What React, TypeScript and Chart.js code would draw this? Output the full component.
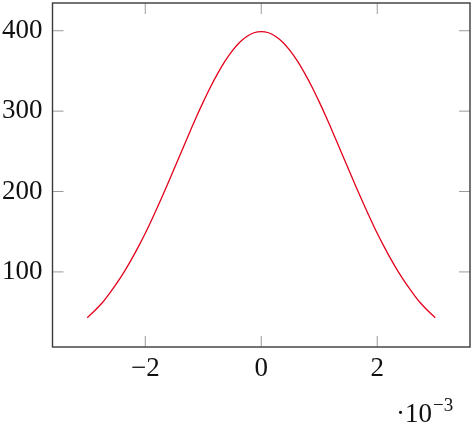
import React, { useEffect, useRef } from "react";
import { Chart, registerables } from "chart.js";

Chart.register(...registerables);

// x positions (actual values; axis shows them scaled by 10^-3)
const xValues = [
  -0.003, -0.002875, -0.00275, -0.002625, -0.0025, -0.002375, -0.00225, -0.002125,
  -0.002, -0.001875, -0.00175, -0.001625, -0.0015, -0.001375, -0.00125, -0.001125,
  -0.001, -0.000875, -0.00075, -0.000625, -0.0005, -0.000375, -0.00025, -0.000125,
  0,
  0.000125, 0.00025, 0.000375, 0.0005, 0.000625, 0.00075, 0.000875, 0.001,
  0.001125, 0.00125, 0.001375, 0.0015, 0.001625, 0.00175, 0.001875, 0.002,
  0.002125, 0.00225, 0.002375, 0.0025, 0.002625, 0.00275, 0.002875, 0.003,
];
const yValues = [
  43, 51.6, 61, 72.5, 85, 98.8, 114, 130.5,
  148, 167.1, 187, 207.6, 228.6, 249.9, 271, 291.7,
  311.5, 330.1, 347, 362.2, 375, 385.4, 392.9, 397.5,
  399,
  397.5, 392.9, 385.4, 375, 362.2, 347, 330.1, 311.5,
  291.7, 271, 249.9, 228.6, 207.6, 187, 167.1, 148,
  130.5, 114, 98.8, 85, 72.5, 61, 51.6, 43,
];
const xTicks = [-0.002, 0, 0.002];
const yTicks = [100, 200, 300, 400];
const xMin = -0.0036;
const xMax = 0.0036;
const yMin = 6.6;
const yMax = 434.5;
const scaleLabel = "·10";
const scaleExp = "−3";

const FONT = "'Liberation Serif', 'DejaVu Serif', serif";

const framePlugin = {
  id: "frameTicks",
  afterDatasetsDraw(chart: any) {
    const { ctx, chartArea, scales } = chart;
    const { left, right, top, bottom } = chartArea;
    const len = 11;
    ctx.save();
    ctx.strokeStyle = "#9a9a9a";
    ctx.lineWidth = 1;
    for (const t of xTicks) {
      const x = scales.x.getPixelForValue(t);
      ctx.beginPath();
      ctx.moveTo(x, bottom);
      ctx.lineTo(x, bottom - len);
      ctx.moveTo(x, top);
      ctx.lineTo(x, top + len);
      ctx.stroke();
    }
    for (const t of yTicks) {
      const y = scales.y.getPixelForValue(t);
      ctx.beginPath();
      ctx.moveTo(left, y);
      ctx.lineTo(left + len, y);
      ctx.moveTo(right, y);
      ctx.lineTo(right - len, y);
      ctx.stroke();
    }
    ctx.strokeStyle = "#3a3a3a";
    ctx.lineWidth = 1.4;
    ctx.strokeRect(left, top, right - left, bottom - top);
    // scale annotation
    ctx.fillStyle = "#111";
    ctx.textAlign = "left";
    ctx.textBaseline = "alphabetic";
    ctx.font = `27px ${FONT}`;
    const x0 = 396;
    ctx.fillText(scaleLabel, x0, 421.5);
    const w = ctx.measureText(scaleLabel).width;
    ctx.font = `19px ${FONT}`;
    ctx.fillText(scaleExp, x0 + w + 1, 411);
    ctx.restore();
  },
};

const zeroPad = (s: any) => {
  s.paddingTop = 0;
  s.paddingBottom = 0;
  s.paddingLeft = 0;
  s.paddingRight = 0;
};

export default function App() {
  const ref = useRef<HTMLCanvasElement>(null);
  useEffect(() => {
    if (!ref.current) return;
    const chart = new Chart(ref.current, {
      type: "scatter",
      data: {
        datasets: [
          {
            data: xValues.map((x, i) => ({ x, y: yValues[i] })),
            showLine: true,
            borderColor: "#e3001b",
            borderWidth: 1.3,
            pointRadius: 0,
            tension: 0.3,
          },
        ],
      },
      options: {
        animation: false,
        responsive: true,
        maintainAspectRatio: false,
        devicePixelRatio: 1,
        layout: { padding: { top: 3, right: 4, left: 0, bottom: 0 } },
        plugins: { legend: { display: false }, tooltip: { enabled: false } },
        scales: {
          x: {
            type: "linear",
            min: xMin,
            max: xMax,
            grid: { display: false, drawTicks: false },
            border: { display: false },
            afterBuildTicks: (s: any) => {
              s.ticks = xTicks.map((v) => ({ value: v }));
            },
            afterFit: (s: any) => {
              s.height = 78;
              zeroPad(s);
            },
            ticks: {
              padding: 6,
              color: "#111",
              font: { family: FONT, size: 27 },
              maxRotation: 0,
              callback: (v: any) => {
                const n = Math.round(Number(v) * 1000);
                return n < 0 ? "−" + Math.abs(n) : String(n);
              },
            },
          },
          y: {
            type: "linear",
            min: yMin,
            max: yMax,
            grid: { display: false, drawTicks: false },
            border: { display: false },
            afterBuildTicks: (s: any) => {
              s.ticks = yTicks.map((v) => ({ value: v }));
            },
            afterFit: (s: any) => {
              s.width = 52.5;
              zeroPad(s);
            },
            ticks: {
              padding: 10,
              color: "#111",
              font: { family: FONT, size: 27 },
              callback: (v: any) => String(v),
            },
          },
        },
      },
      plugins: [framePlugin],
    });
    return () => chart.destroy();
  }, []);
  return (
    <div style={{ position: "absolute", left: 0, top: 0, width: 474, height: 425, background: "#fff" }}>
      <canvas ref={ref} />
    </div>
  );
}
